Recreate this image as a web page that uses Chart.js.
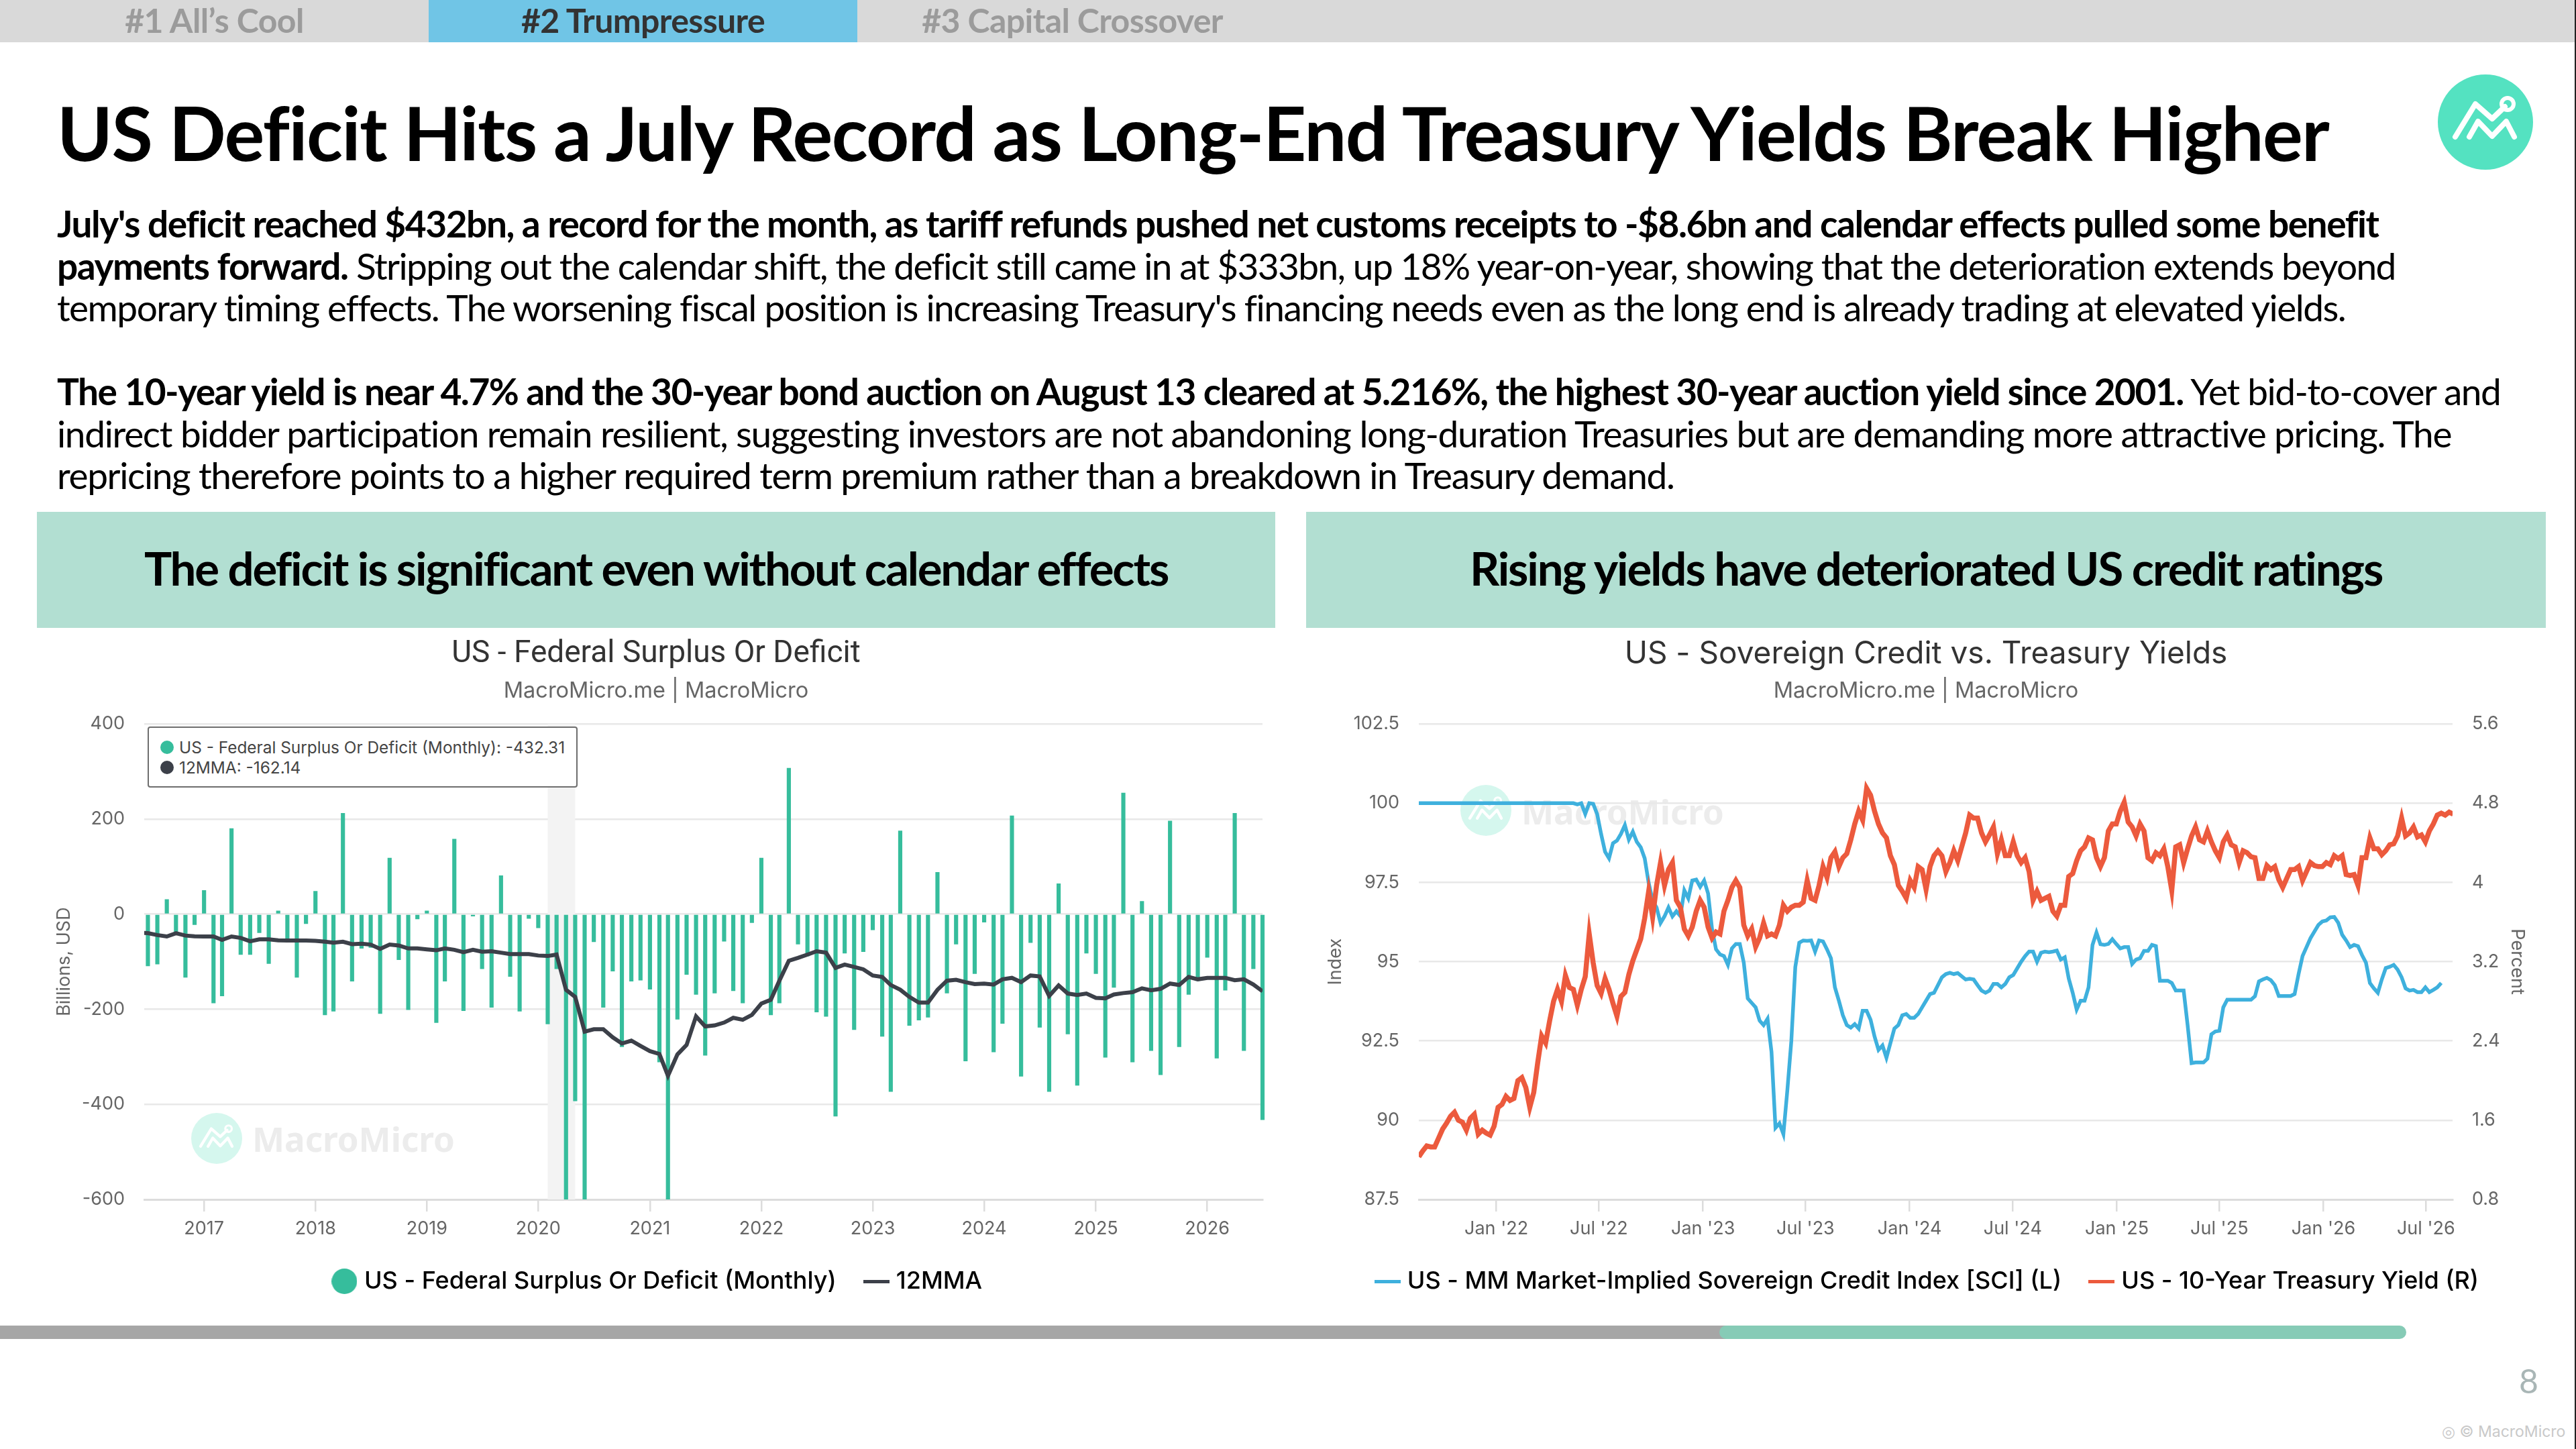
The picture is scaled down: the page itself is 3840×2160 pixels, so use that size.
<!DOCTYPE html>
<html>
<head>
<meta charset="utf-8">
<title>US Deficit Hits a July Record</title>
<script src="https://cdn.jsdelivr.net/npm/chart.js@4"></script>
<style>
  html, body { margin: 0; padding: 0; background: #fff; }
  #page { position: relative; width: 3840px; height: 2160px; overflow: hidden; font-family: Lato, sans-serif; color: #000; }
  #page > * { position: absolute; }
  .tabbar { left: 0; top: 0; width: 3838px; height: 63px; background: #d9d9d9; }
  .tab { top: 0; width: 639px; height: 63px; line-height: 60px; text-align: center; font-size: 50px; font-weight: 700; color: #9b9b9b; letter-spacing: -0.6px; }
  .tab.on { background: #70c5e6; color: #333; }
  h1 { margin: 0; left: 85px; top: 130px; font-size: 112px; line-height: 134px; font-weight: 700; white-space: nowrap; letter-spacing: -1.7px; }
  .line { left: 85px; font-size: 55px; line-height: 62px; white-space: nowrap; letter-spacing: -1.45px; }
  .head { top: 763px; height: 173px; line-height: 168px; background: #b2dfd2; text-align: center; font-size: 69px; font-weight: 700; letter-spacing: -2.2px; }
  canvas { position: absolute; }
  .wm { z-index: 0; }
  .wmtext { font-family: "Noto Sans", sans-serif; font-weight: 700; font-size: 51px; color: #ececec; white-space: nowrap; line-height: 70px; }
  .chartcv { z-index: 1; }
  .tip { left: 220px; top: 1083px; width: 637px; height: 87px; background: #fff; border: 2px solid #6e6e6e; border-radius: 4px; z-index: 2; font-family: Inter, sans-serif; font-size: 24.4px; color: #444; }
  .tip div { position: absolute; left: 45px; white-space: nowrap; line-height: 30px; }
  .tip i { position: absolute; left: -28px; top: 5px; width: 20px; height: 20px; border-radius: 50%; }
  .bar1 { left: 0; top: 1976px; width: 2580px; height: 20px; background: #a6a6a6; }
  .bar2 { left: 2563px; top: 1976px; width: 1024px; height: 20px; background: #86cbb6; border-radius: 10px; }
  .pageno { left: 3755px; top: 2028px; font-family: Lato, sans-serif; font-size: 50px; color: #a9b6b6; }
  .credit { left: 3640px; top: 2120px; font-family: Inter, sans-serif; font-size: 23px; color: #c9c9c9; white-space: nowrap; }
  .edge { left: 3838px; top: 0; width: 2px; height: 2160px; background: #222; }
</style>
</head>
<body>
<div id="page">
  <svg width="0" height="0" style="position:absolute">
    <symbol id="mmlogo" viewBox="0 0 142 142">
      <circle cx="71" cy="71" r="71" fill="currentColor"/>
      <path d="M26 93 L56 44 L81 66 L100 48 M47 93 L60 70 L81 92 L102 70 L114 93" fill="none" stroke="#fff" stroke-width="8" stroke-linecap="round" stroke-linejoin="round"/>
      <circle cx="104" cy="44" r="9" fill="none" stroke="#fff" stroke-width="6"/>
    </symbol>
  </svg>

  <div class="tabbar"></div>
  <div class="tab" style="left:0">#1 All’s Cool</div>
  <div class="tab on" style="left:639px">#2 Trumpressure</div>
  <div class="tab" style="left:1279px">#3 Capital Crossover</div>

  <h1>US Deficit Hits a July Record as Long-End Treasury Yields Break Higher</h1>
  <svg style="left:3634px;top:111px;color:#54e2c1" width="142" height="142"><use href="#mmlogo"/></svg>

  <div class="line" style="top:302px"><b>July's deficit reached $432bn, a record for the month, as tariff refunds pushed net customs receipts to -$8.6bn and calendar effects pulled some benefit</b></div>
  <div class="line" style="top:365px;letter-spacing:-1.63px"><b style="letter-spacing:-1.45px">payments forward.</b> Stripping out the calendar shift, the deficit still came in at $333bn, up 18% year-on-year, showing that the deterioration extends beyond</div>
  <div class="line" style="top:427px;letter-spacing:-1.5px">temporary timing effects. The worsening fiscal position is increasing Treasury's financing needs even as the long end is already trading at elevated yields.</div>
  <div class="line" style="top:552px;letter-spacing:-1.5px"><b>The 10-year yield is near 4.7% and the 30-year bond auction on August 13 cleared at 5.216%, the highest 30-year auction yield since 2001.</b> Yet bid-to-cover and</div>
  <div class="line" style="top:615px;letter-spacing:-1.33px">indirect bidder participation remain resilient, suggesting investors are not abandoning long-duration Treasuries but are demanding more attractive pricing. The</div>
  <div class="line" style="top:677px;letter-spacing:-1.38px">repricing therefore points to a higher required term premium rather than a breakdown in Treasury demand.</div>

  <div class="head" style="left:55px;width:1846px">The deficit is significant even without calendar effects</div>
  <div class="head" style="left:1947px;width:1848px;letter-spacing:-2.1px">Rising yields have deteriorated US credit ratings</div>

  <!-- watermarks sit under the transparent canvases -->
  <svg class="wm" style="left:285px;top:1659px;color:#d5f7ee" width="76" height="76"><use href="#mmlogo"/></svg>
  <div class="wmtext wm" style="left:376px;top:1662px">MacroMicro</div>
  <svg class="wm" style="left:2177px;top:1170px;color:#d5f7ee" width="76" height="76"><use href="#mmlogo"/></svg>
  <div class="wmtext wm" style="left:2268px;top:1174px">MacroMicro</div>

  <canvas id="deficitChart" class="chartcv" width="1846" height="1002" style="left:55px;top:936px"></canvas>
  <canvas id="yieldChart" class="chartcv" width="1848" height="1002" style="left:1947px;top:936px"></canvas>

  <div class="tip">
    <div id="tip1" style="top:14px"><i style="background:#36bd9c"></i></div>
    <div id="tip2" style="top:44px"><i style="background:#3c4049"></i></div>
  </div>

  <div class="bar1"></div>
  <div class="bar2"></div>
  <div class="pageno">8</div>
  <div class="credit">&#9678; © MacroMicro</div>
  <div class="edge"></div>
</div>

<script>
// =====================================================
//  DATA
// =====================================================

const surplusName = "US - Federal Surplus Or Deficit (Monthly)";
const mmaName     = "12MMA";
const creditName  = "US - MM Market-Implied Sovereign Credit Index [SCI] (L)";
const yieldName   = "US - 10-Year Treasury Yield (R)";

// monthly, Jun 2016 .. Jul 2026 (Jun 2016 sits off the chart)
const surplus = [null,
  -109,-105,31,-40,-133,-22,50,-187,-172,180,-85,-85,-39,-104,7,-55,-133,-20,48,-212,
  -204,212,-141,-72,-70,-209,118,-96,-201,-10,7,-228,-141,158,-203,-4,-115,-196,81,-131,
  -204,-9,-29,-231,-115,-738,-393,-864,-58,-196,-120,-279,-141,-139,-158,-311,-660,-221,-127,-169,
  -297,-166,-57,-161,-187,-18,118,-212,-187,307,-63,-88,-206,-215,-425,-82,-243,-79,-33,-257,
  -373,175,-234,-223,-217,88,-166,-63,-309,-125,-17,-290,-230,207,-341,-60,-238,-373,64,-252,
  -360,-82,-125,-301,-154,255,-311,27,-287,-338,196,-279,-169,-140,-91,-303,-160,212,-287,-115,
  -432.31
];
const mma = [-39,
  -40,-44,-47,-40,-45,-46.5,-47,-47,-54,-47,-50,-57,-53,-53,-55,-55.5,-55.5,-55.5,-56,-58,
  -60,-58,-63,-62,-64,-73,-64,-66,-72,-72,-74,-76,-72,-75,-80,-75,-79,-78,-81,-84,
  -84,-84,-87,-88,-85,-159,-174,-247,-242,-242,-259,-272,-266,-277,-288,-294,-340,-295,-275,-215,
  -236,-234,-228,-218,-222,-212,-188,-180,-140,-98,-92,-85,-78,-81,-113,-106,-111,-116,-129,-132,
  -149,-159,-174,-186,-186,-159,-140,-138,-143,-147,-146,-148,-137,-134,-143,-129,-131,-172,-150,-167,
  -170,-167,-176,-177,-169,-166,-164,-156,-160,-157,-146,-149,-132,-137,-134,-134,-134,-139,-137,-148,
  -162.14
];
const recessionBand = [Date.UTC(2020, 1, 1), Date.UTC(2020, 4, 1)];
const deficitYears  = [2017, 2018, 2019, 2020, 2021, 2022, 2023, 2024, 2025, 2026];

// weekly from 17 Aug 2021
const yield10y = [
  1.23,1.29,1.34,1.33,1.33,1.42,1.51,1.57,1.64,1.68,1.60,1.58,1.50,1.62,1.66,1.46,1.50,1.47,1.45,1.54,
  1.73,1.76,1.84,1.80,1.82,2.00,2.03,1.93,1.73,1.88,2.18,2.45,2.38,2.60,2.80,2.92,2.80,3.06,2.94,2.92,
  2.76,2.92,3.05,3.48,3.19,2.96,2.88,3.03,2.92,2.78,2.65,2.85,2.89,3.07,3.21,3.32,3.43,3.64,3.91,3.65,
  3.97,4.20,3.97,4.13,4.20,3.82,3.75,3.53,3.46,3.55,3.71,3.82,3.75,3.55,3.44,3.50,3.48,3.71,3.82,3.95,
  4.02,3.95,3.57,3.46,3.53,3.35,3.44,3.59,3.46,3.48,3.46,3.57,3.77,3.71,3.75,3.77,3.77,3.80,4.02,3.84,
  3.82,3.97,4.16,4.05,4.25,4.31,4.16,4.25,4.29,4.43,4.59,4.72,4.63,4.95,4.88,4.72,4.59,4.50,4.45,4.27,
  4.18,3.97,3.91,3.84,4.02,3.95,4.16,4.13,3.93,4.16,4.27,4.32,4.27,4.11,4.20,4.32,4.22,4.36,4.50,4.68,
  4.65,4.65,4.50,4.41,4.48,4.56,4.29,4.43,4.27,4.27,4.41,4.27,4.20,4.25,4.11,3.82,3.91,3.82,3.84,3.86,
  3.71,3.66,3.77,3.77,4.06,4.09,4.22,4.32,4.36,4.45,4.43,4.25,4.16,4.25,4.52,4.59,4.59,4.72,4.81,4.61,
  4.56,4.47,4.59,4.52,4.25,4.22,4.30,4.27,4.34,4.16,3.92,4.36,4.38,4.20,4.34,4.47,4.56,4.43,4.41,4.52,
  4.41,4.32,4.25,4.41,4.48,4.38,4.36,4.20,4.32,4.30,4.26,4.25,4.04,4.04,4.17,4.13,4.16,4.03,3.95,4.04,
  4.13,4.13,4.16,4.02,4.11,4.20,4.17,4.16,4.16,4.20,4.18,4.27,4.24,4.27,4.08,4.07,4.08,3.97,4.25,4.25,
  4.45,4.34,4.34,4.28,4.32,4.38,4.39,4.47,4.65,4.47,4.50,4.56,4.46,4.48,4.41,4.52,4.59,4.68,4.70,4.68,
  4.71,4.69
];
const creditIndex = [
  100,100,100,100,100,100,100,100,100,100,100,100,100,100,100,100,100,100,100,100,
  100,100,100,100,100,100,100,100,100,100,100,100,100,100,100,100,100,100,100,100,
  99.96,100,99.66,100,99.98,99.66,99.03,98.47,98.26,98.74,98.82,99.03,99.31,98.85,99.10,98.78,98.61,98.26,97.49,96.92,
  96.71,96.22,96.43,96.71,96.43,96.59,96.44,97.25,97.0,97.56,97.59,97.36,97.56,97.15,96.02,95.39,95.23,95.18,94.90,95.42,
  95.56,95.56,94.97,93.84,93.70,93.56,93.14,93.0,93.2,92.15,89.76,89.9,89.56,90.95,92.5,94.83,95.6,95.67,95.66,95.67,
  95.32,95.67,95.64,95.39,95.11,94.19,93.77,93.31,93.0,92.92,93.03,92.89,93.45,93.45,93.17,92.64,92.22,92.36,91.97,92.43,
  92.89,93.0,93.31,93.35,93.23,93.23,93.35,93.56,93.77,93.98,94.02,94.26,94.51,94.61,94.65,94.61,94.64,94.54,94.44,94.46,
  94.44,94.26,94.09,94.02,94.09,94.30,94.30,94.19,94.30,94.51,94.58,94.79,95.0,95.18,95.32,95.32,95.0,95.28,95.32,95.30,
  95.32,95.35,95.07,95.14,94.47,94.02,93.49,93.77,93.77,94.19,95.53,95.92,95.55,95.53,95.56,95.71,95.56,95.42,95.46,95.46,
  94.93,95.07,95.11,95.34,95.34,95.53,95.49,94.40,94.40,94.40,94.33,94.09,94.09,94.09,93.0,91.80,91.82,91.82,91.82,91.94,
  92.71,92.80,92.82,93.56,93.80,93.80,93.80,93.80,93.80,93.80,93.80,93.91,94.38,94.44,94.49,94.42,94.26,93.92,93.92,93.92,
  93.92,93.98,94.61,95.18,95.46,95.74,95.95,96.16,96.27,96.30,96.40,96.41,96.23,95.85,95.67,95.46,95.53,95.49,95.21,94.97,
  94.33,94.16,94.02,94.44,94.80,94.84,94.90,94.75,94.51,94.16,94.09,94.11,94.04,94.04,94.19,94.04,94.11,94.19,94.33
];
const yieldTickMonths = [[2022,0],[2022,6],[2023,0],[2023,6],[2024,0],[2024,6],[2025,0],[2025,6],[2026,0],[2026,6]];
const monthNames = ["Jan", "Feb", "Mar", "Apr", "May", "Jun", "Jul", "Aug", "Sep", "Oct", "Nov", "Dec"];

// =====================================================
//  HELPERS
// =====================================================

const DAY = 86400000;
const FONT = "Inter, sans-serif";
const monthDates = surplus.map((_, i) => Date.UTC(2016, 5 + i, 1));
const weekDates  = yield10y.map((_, i) => Date.UTC(2021, 7, 17) + i * 7 * DAY);

const pairs = (xs, ys) => ys.map((y, i) => ({ x: xs[i], y }));

/** Axis helper: fixes the box size so both plots land where the reference has them */
const fixWidth  = w => scale => { scale.width  = w; };
const fixHeight = h => scale => { scale.height = h; };

const axisTicks = { color: "#666", font: { family: FONT, size: 27 } };
const gridStyle = { color: "#e8e8e8", lineWidth: 2.5, drawTicks: false };

function xAxis(min, max, tickValues, label) {
  return {
    type: "linear",
    min, max,
    offset: false,
    afterBuildTicks: scale => { scale.ticks = tickValues.map(value => ({ value })); },
    afterFit: fixHeight(56),
    grid:   { display: true, drawOnChartArea: false, drawTicks: true, tickLength: 18, color: "#dcdcdc", lineWidth: 2.5, offset: false },
    border: { color: "#dcdcdc", width: 3 },
    ticks:  { ...axisTicks, autoSkip: false, maxRotation: 0, padding: 10, callback: label }
  };
}

function yAxis(position, width, min, max, stepSize, title, titlePad) {
  return {
    position, min, max,
    afterFit: fixWidth(width),
    grid:   position === "left" ? gridStyle : { drawOnChartArea: false, drawTicks: false },
    border: { display: false },
    ticks:  { ...axisTicks, stepSize, padding: 29, callback: v => String(+v.toFixed(1)) },
    title:  { display: true, text: title, color: "#666", font: { family: FONT, size: 27 }, padding: { top: titlePad, bottom: 0 } }
  };
}

/** Legend icons: small canvases, wider than the legend box so they sit close to the text */
function dashIcon(color) {
  const c = document.createElement("canvas");
  c.width = 39;
  c.height = 5;
  const g = c.getContext("2d");
  g.fillStyle = color;
  g.fillRect(0, 0, 39, 5);
  return c;
}

function dotIcon(color) {
  const c = document.createElement("canvas");
  c.width = c.height = 38;
  const g = c.getContext("2d");
  g.fillStyle = color;
  g.arc(19, 19, 19, 0, Math.PI * 2);
  g.fill();
  return c;
}

function legendOptions(items) {
  return {
    position: "bottom",
    labels: {
      usePointStyle: true,
      pointStyleWidth: 23,
      boxHeight: 27,
      padding: 48,
      color: "#000",
      font: { family: FONT, size: 36, weight: "500" },
      generateLabels: () => items
    },
    onClick: null
  };
}

function titleOptions(text, family, size) {
  return {
    title:    { display: true, text, color: "#333", font: { family, size, weight: "400" }, padding: { top: 12, bottom: 8 } },
    subtitle: { display: true, text: "MacroMicro.me | MacroMicro", color: "#666", font: { family: FONT, size: 32.5, weight: "400" }, padding: { top: 0, bottom: 29 } },
    tooltip:  { enabled: false }
  };
}

/** Grey recession band, under the bars */
const bandPlugin = {
  id: "band",
  beforeDatasetsDraw(chart) {
    const { ctx, chartArea, scales: { x } } = chart;
    ctx.save();
    ctx.fillStyle = "#f3f3f3";
    const left = x.getPixelForValue(recessionBand[0]);
    ctx.fillRect(left, chartArea.top, x.getPixelForValue(recessionBand[1]) - left, chartArea.height);
    ctx.restore();
  }
};

/** The icons hang out on the left of the box, so the centred legend needs a small nudge */
const legendNudge = {
  id: "legendNudge",
  afterLayout(chart) { chart.legend.left += 10; }
};

// =====================================================
//  CHARTS
// =====================================================

Chart.defaults.animation = false;
Chart.defaults.font.family = FONT;

new Chart(document.getElementById("deficitChart"), {
  type: "bar",
  plugins: [bandPlugin, legendNudge],
  data: {
    datasets: [
      { type: "line", label: mmaName, data: pairs(monthDates, mma), borderColor: "#3c4049", borderWidth: 6, pointRadius: 0, tension: 0, order: 0, clip: { left: 0, top: 3, right: 0, bottom: 3 } },
      { type: "bar", label: surplusName, data: pairs(monthDates, surplus), backgroundColor: "#36bd9c", barThickness: 5.5, order: 1, clip: { left: 0, top: 0, right: 6, bottom: 0 } }
    ]
  },
  options: {
    responsive: false,
    devicePixelRatio: 1,
    layout: { padding: { left: 19, right: 19, top: 0, bottom: 0 } },
    scales: {
      x: xAxis(Date.UTC(2016, 5, 19), Date.UTC(2026, 6, 1), deficitYears.map(y => Date.UTC(y, 0, 1)), v => new Date(v).getUTCFullYear()),
      y: yAxis("left", 141, -600, 400, 200, "Billions, USD", 6)
    },
    plugins: {
      ...titleOptions("US - Federal Surplus Or Deficit", "Roboto, sans-serif", 46),
      legend: legendOptions([
        { text: surplusName, pointStyle: dotIcon("#36bd9c") },
        { text: mmaName, pointStyle: dashIcon("#3c4049") }
      ])
    }
  }
});

new Chart(document.getElementById("yieldChart"), {
  type: "line",
  plugins: [legendNudge],
  data: {
    datasets: [
      { label: yieldName, yAxisID: "yR", data: pairs(weekDates, yield10y), borderColor: "#ec5a3d", borderWidth: 7.5, pointRadius: 0, tension: 0, order: 0, clip: { left: 0, top: 4, right: 0, bottom: 4 } },
      { label: creditName, yAxisID: "yL", data: pairs(weekDates, creditIndex), borderColor: "#3eb0dd", borderWidth: 5.5, pointRadius: 0, tension: 0, order: 1, clip: { left: 0, top: 3, right: 0, bottom: 3 } }
    ]
  },
  options: {
    responsive: false,
    devicePixelRatio: 1,
    layout: { padding: 0 },
    scales: {
      x: xAxis(Date.UTC(2021, 7, 17), Date.UTC(2026, 7, 17), yieldTickMonths.map(([y, m]) => Date.UTC(y, m, 1)),
        v => { const d = new Date(v); return monthNames[d.getUTCMonth()] + " '" + String(d.getUTCFullYear()).slice(2); }),
      yL: yAxis("left", 168, 87.5, 102.5, 2.5, "Index", 28),
      yR: yAxis("right", 139, 0.8, 5.6, 0.8, "Percent", 27)
    },
    plugins: {
      ...titleOptions("US - Sovereign Credit vs. Treasury Yields", FONT, 46),
      legend: legendOptions([
        { text: creditName, pointStyle: dashIcon("#3eb0dd") },
        { text: yieldName, pointStyle: dashIcon("#ec5a3d") }
      ])
    }
  }
});

// readout box in the left chart, takes the latest values
document.getElementById("tip1").append(surplusName + ": " + surplus[surplus.length - 1]);
document.getElementById("tip2").append(mmaName + ": " + mma[mma.length - 1]);
</script>
</body>
</html>
